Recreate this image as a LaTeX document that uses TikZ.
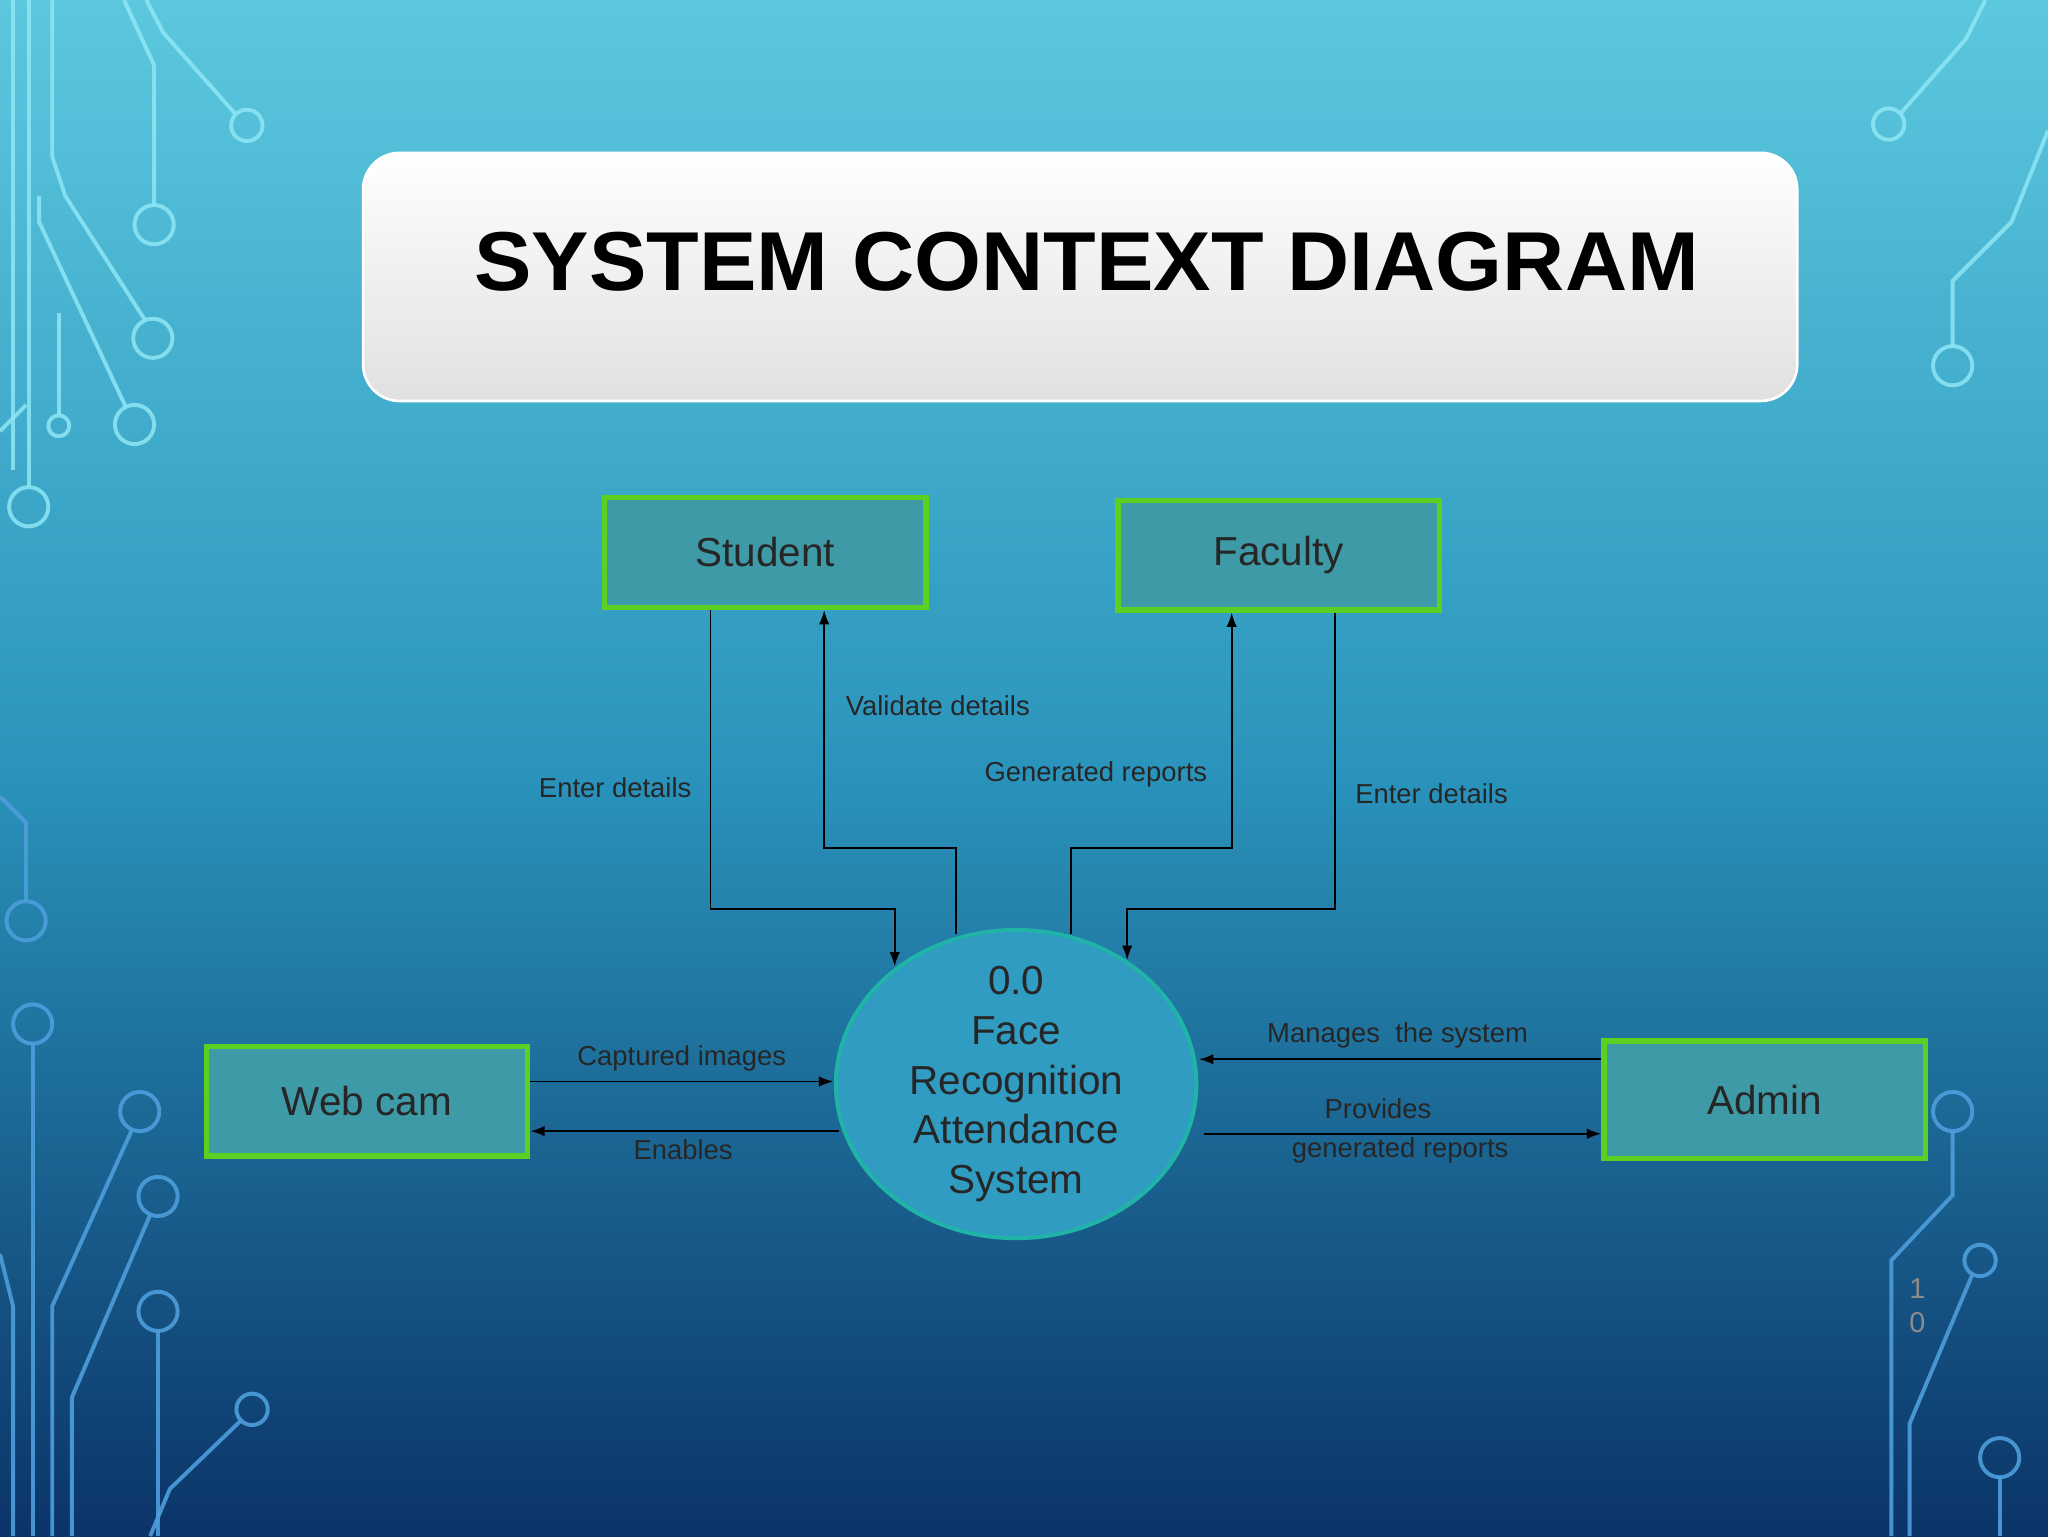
\documentclass[tikz,border=0pt]{standalone}
\usepackage{fontspec}
\setmainfont{Liberation Sans}
\usetikzlibrary{shapes.geometric,arrows.meta}
\definecolor{bgtop}{HTML}{5CC8DE}
\definecolor{bgmid}{HTML}{2A94BC}
\definecolor{bgbot}{HTML}{0B3468}
\definecolor{boxfill}{HTML}{3E9AA6}
\definecolor{boxline}{HTML}{5BD023}
\definecolor{ellline}{HTML}{1FB4A6}
\definecolor{circA}{HTML}{8EE6F4}
\definecolor{circB}{HTML}{4D9EDC}
\tikzset{
  ent/.style={draw=boxline,line width=4pt,fill=boxfill,minimum width=246pt,minimum height=84pt,font=\fontsize{31}{34}\selectfont,text=black!85},
  flow/.style={draw=black,line width=1.4pt},
  arr/.style={flow,-{Latex[length=11pt,width=8pt]}},
  lbl/.style={font=\fontsize{21}{23}\selectfont,text=black!85},
  circ/.style={line width=3pt},
}
\begin{document}
\begin{tikzpicture}[x=1pt,y=-1pt]
\useasboundingbox (0,0) rectangle (1568,1176);
\shade[top color=bgtop,bottom color=bgbot,middle color=bgmid] (0,0) rectangle (1568,1176);
% circuits
\begin{scope}[draw=circA,circ,opacity=0.85]
\draw (10,0)--(10,360); \draw (22,0)--(22,373); \draw (22,388) circle (15);
\draw (95,0)--(118,50)--(118,157); \draw (118,172) circle (15);
\draw (112,0)--(125,25)--(180,87); \draw (189,96) circle (12);
\draw (40,0)--(40,120)--(50,150)--(111,245); \draw (117,259) circle (15);
\draw (30,150)--(30,170)--(96,311); \draw (103,325) circle (15);
\draw (45,240)--(45,318); \draw (45,326) circle (8);
\draw (0,330)--(20,310);
\draw (1520,0)--(1505,30)--(1455,87); \draw (1446,95) circle (12);
\draw (1568,100)--(1540,170)--(1495,215)--(1495,265); \draw (1495,280) circle (15);
\end{scope}
\begin{scope}[draw=circB,circ,opacity=0.9]
\draw (0,610)--(20,630)--(20,690); \draw (20,705) circle (15);
\draw (25,799)--(25,1176); \draw (25,784) circle (15);
\draw (101,865)--(40,1000)--(40,1176); \draw (107,851) circle (15);
\draw (115,930)--(55,1070)--(55,1176); \draw (121,916) circle (15);
\draw (121,1019)--(121,1176); \draw (121,1004) circle (15);
\draw (184,1088)--(130,1140)--(115,1176); \draw (193,1079) circle (12);
\draw (0,960)--(10,1000)--(10,1176);
\draw (1495,866)--(1495,915)--(1448,965)--(1448,1176); \draw (1495,851) circle (15);
\draw (1510,976)--(1462,1090)--(1462,1176); \draw (1516,965) circle (12);
\draw (1531,1131)--(1531,1176); \draw (1531,1116) circle (15);
\end{scope}
% title
\node[rounded corners=28pt,draw=white,line width=2pt,top color=white,bottom color=black!12,minimum width=1098pt,minimum height=190pt] (title) at (827,212) {};
\node[font=\fontsize{64}{70}\selectfont\bfseries,xscale=1.03] (ttext) at (832,200) {SYSTEM CONTEXT DIAGRAM};
% entities
\node[ent] (student) at (586,423) {Student};
\node[ent] (faculty) at (979,425) {Faculty};
\node[ent] (webcam) at (281,843) {Web cam};
\node[ent,minimum height=90pt] (admin) at (1351,842) {Admin};
\node[ellipse,draw=ellline,line width=3pt,fill=bgmid!85!bgtop,minimum width=276pt,minimum height=236pt,inner sep=0pt] (sys) at (778,830) {};
\node[align=center,font=\fontsize{31}{38}\selectfont,text=black!85] (systext) at (778,830) {0.0\\Face\\Recognition\\Attendance\\System};
% coordinates
\coordinate (s1) at (544,467); \coordinate (s1b) at (544,696); \coordinate (s1c) at (685,696); \coordinate (s1d) at (685,740);
\coordinate (v1) at (732,715); \coordinate (v2) at (732,649); \coordinate (v3) at (631,649); \coordinate (v4) at (631,467);
\coordinate (g1) at (820,715); \coordinate (g2) at (820,649); \coordinate (g3) at (943,649); \coordinate (g4) at (943,469);
\coordinate (f1) at (1022,469); \coordinate (f2) at (1022,696); \coordinate (f3) at (863,696); \coordinate (f4) at (863,735);
\coordinate (c1) at (406,828); \coordinate (c2) at (638,828);
\coordinate (e1) at (642,866); \coordinate (e2) at (406,866);
\coordinate (m1) at (1226,811); \coordinate (m2) at (918,811);
\coordinate (p1) at (922,868); \coordinate (p2) at (1226,868);
\draw[arr] (s1)--(s1b)--(s1c)--(s1d);
\draw[arr] (v1)--(v2)--(v3)--(v4);
\draw[arr] (g1)--(g2)--(g3)--(g4);
\draw[arr] (f1)--(f2)--(f3)--(f4);
\draw[arr] (c1)--(c2);
\draw[arr] (e1)--(e2);
\draw[arr] (m1)--(m2);
\draw[arr] (p1)--(p2);
% labels
\node[lbl] (l1) at (471,603) {Enter details};
\node[lbl] (l2) at (718,540) {Validate details};
\node[lbl] (l3) at (839,593) {Generated reports};
\node[lbl] (l4) at (1096,608) {Enter details};
\node[lbl] (l5) at (522,810) {Captured images};
\node[lbl] (l6) at (523,880) {Enables};
\node[lbl] (l7) at (1070,793) {Manages\ \ the system};
\node[lbl] (l8) at (1055,849) {Provides};
\node[lbl] (l9) at (1072,881) {generated reports};
\node[font=\fontsize{22}{26}\selectfont,text=black!45,align=center] (pg) at (1468,1000) {1\\0};
\end{tikzpicture}
\end{document}
